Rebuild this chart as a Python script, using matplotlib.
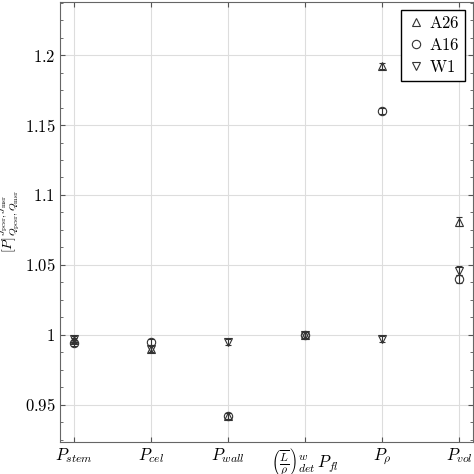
import matplotlib
matplotlib.use("Agg")
import matplotlib.pyplot as plt
from matplotlib.ticker import MultipleLocator
from matplotlib.lines import Line2D

plt.rcParams['mathtext.fontset'] = 'cm'
plt.rcParams['font.family'] = 'DejaVu Serif'

labels = [r'$P_{stem}$', r'$P_{cel}$', r'$P_{wall}$',
          r'$\left(\frac{\overline{L}}{\rho}\right)^w_{det}\,P_{fl}$', r'$P_{\rho}$', r'$P_{vol}$']
a26 = [0.996, 0.990, 0.942, 1.000, 1.192, 1.081]
a16 = [0.994, 0.995, 0.942, 1.000, 1.160, 1.040]
w1 = [0.997, 0.990, 0.995, 1.000, 0.997, 1.046]
err = [0.002, 0.002, 0.002, 0.002, 0.002, 0.003]
yticks = [0.95, 1.0, 1.05, 1.1, 1.15, 1.2]
ytick_labels = ['0.95', '1', '1.05', '1.1', '1.15', '1.2']

fig = plt.figure(figsize=(4.74, 4.74), dpi=100)
ax = fig.add_axes([0.127, 0.068, 0.871, 0.928])
x = list(range(len(labels)))
kw = dict(ls='none', color='#333333', mfc='none', capsize=2.5, elinewidth=0.8, markersize=6, mew=0.8)
ax.errorbar(x, a26, yerr=err, marker='^', **kw)
ax.errorbar(x, a16, yerr=err, marker='o', **kw)
ax.errorbar(x, w1, yerr=err, marker='v', **kw)
ax.set_xticks(x)
ax.set_xticklabels(labels, fontsize=12)
ax.set_xlim(-0.18, 5.18)
ax.set_ylim(0.9236, 1.238)
ax.set_yticks(yticks)
ax.set_yticklabels(['$' + t + '$' for t in ytick_labels], fontsize=12)
ax.yaxis.set_minor_locator(MultipleLocator(0.0125))
ax.grid(True, color='#dddddd', lw=0.8)
ax.set_axisbelow(True)
ax.tick_params(direction='in', which='both', right=True, top=True, colors='#555555', labelcolor='black')
ax.tick_params(which='minor', length=2)
for s in ax.spines.values():
    s.set_color('#666666')
ax.set_ylabel(r'$[P]^{J_{\mathrm{pcsr}},J_{\mathrm{msr}}}_{Q_{\mathrm{pcsr}},Q_{\mathrm{msr}}}$', fontsize=10, labelpad=2)
ax.yaxis.set_label_coords(-0.095, 0.5)
handles = [Line2D([], [], ls='none', marker=m, color='#333333', mfc='none', markersize=6, mew=0.8)
           for m in ['^', 'o', 'v']]
ax.legend(handles, ['$\\mathrm{A26}$', '$\\mathrm{A16}$', '$\\mathrm{W1}$'], loc='upper right', fontsize=12,
          fancybox=False, edgecolor='black', handletextpad=0.2, borderpad=0.3, handlelength=1.2,
          labelspacing=0.3, framealpha=1)
fig.savefig('out.png', dpi=100)
